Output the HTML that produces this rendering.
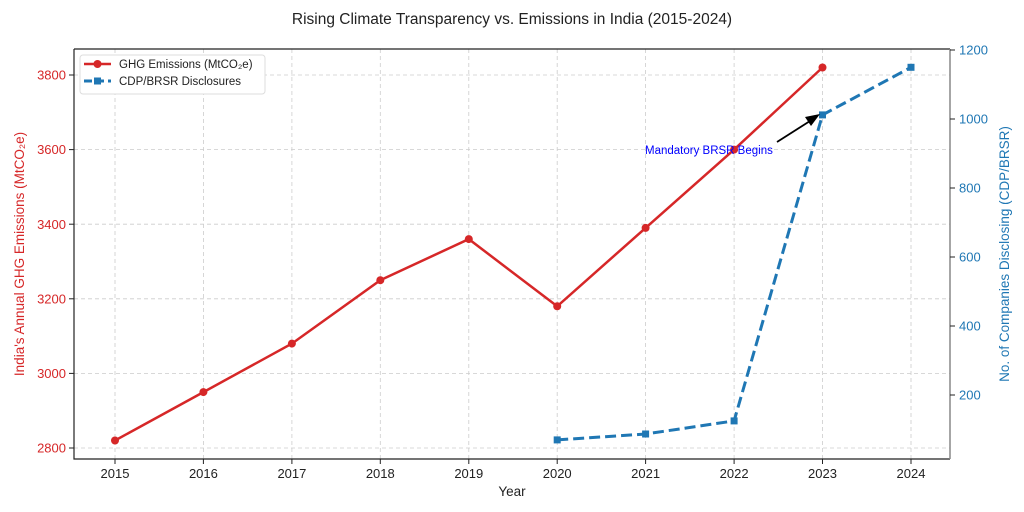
<!DOCTYPE html>
<html><head><meta charset="utf-8"><style>body{margin:0;background:#fff}svg{display:block}text{font-family:"Liberation Sans","DejaVu Sans",sans-serif}</style></head><body>
<svg width="1024" height="512" viewBox="0 0 1024 512">
<text x="512" y="24" font-size="15.5" text-anchor="middle" fill="#222">Rising Climate Transparency vs. Emissions in India (2015-2024)</text>
<g stroke="#ccc" stroke-dasharray="4,3" stroke-width="0.8">
<line x1="115" y1="49" x2="115" y2="459"/><line x1="203.4" y1="49" x2="203.4" y2="459"/><line x1="291.9" y1="49" x2="291.9" y2="459"/><line x1="380.3" y1="49" x2="380.3" y2="459"/><line x1="468.8" y1="49" x2="468.8" y2="459"/><line x1="557.2" y1="49" x2="557.2" y2="459"/><line x1="645.6" y1="49" x2="645.6" y2="459"/><line x1="734.1" y1="49" x2="734.1" y2="459"/><line x1="822.5" y1="49" x2="822.5" y2="459"/><line x1="911" y1="49" x2="911" y2="459"/>
<line x1="74" y1="448" x2="950" y2="448"/><line x1="74" y1="373.4" x2="950" y2="373.4"/><line x1="74" y1="298.8" x2="950" y2="298.8"/><line x1="74" y1="224.2" x2="950" y2="224.2"/><line x1="74" y1="149.6" x2="950" y2="149.6"/><line x1="74" y1="75" x2="950" y2="75"/>
</g>
<polyline fill="none" stroke="#d62728" stroke-width="2.5" points="115,440.5 203.4,392.1 291.9,343.6 380.3,280.2 468.8,239.1 557.2,306.3 645.6,227.9 734.1,149.6 822.5,67.5"/>
<g fill="#d62728"><circle cx="115" cy="440.5" r="4"/><circle cx="203.4" cy="392.1" r="4"/><circle cx="291.9" cy="343.6" r="4"/><circle cx="380.3" cy="280.2" r="4"/><circle cx="468.8" cy="239.1" r="4"/><circle cx="557.2" cy="306.3" r="4"/><circle cx="645.6" cy="227.9" r="4"/><circle cx="734.1" cy="149.6" r="4"/><circle cx="822.5" cy="67.5" r="4"/></g>
<polyline fill="none" stroke="#1f77b4" stroke-width="3" stroke-dasharray="11,5" points="557.2,439.9 645.6,434 734.1,420.9 822.5,114.9 911,67.3"/>
<g fill="#1f77b4"><rect x="553.7" y="436.4" width="7" height="7"/><rect x="642.1" y="430.5" width="7" height="7"/><rect x="730.6" y="417.4" width="7" height="7"/><rect x="819" y="111.4" width="7" height="7"/><rect x="907.5" y="63.8" width="7" height="7"/></g>
<line x1="777" y1="142" x2="810" y2="121" stroke="#000" stroke-width="1.8"/>
<polygon points="820,114 805,117 811,126" fill="#000"/>
<text x="645" y="154" font-size="11.5" fill="#0000ff">Mandatory BRSR Begins</text>
<path d="M74,49 V459 H950" fill="none" stroke="#222" stroke-width="1.2"/>
<line x1="74" y1="49" x2="950" y2="49" stroke="#222" stroke-width="1.2"/>
<line x1="950" y1="49" x2="950" y2="459" stroke="#888" stroke-width="1.5"/>
<g stroke="#222"><line x1="69" y1="448" x2="74" y2="448"/><line x1="69" y1="373.4" x2="74" y2="373.4"/><line x1="69" y1="298.8" x2="74" y2="298.8"/><line x1="69" y1="224.2" x2="74" y2="224.2"/><line x1="69" y1="149.6" x2="74" y2="149.6"/><line x1="69" y1="75" x2="74" y2="75"/></g>
<g font-size="13" fill="#d62728" text-anchor="end"><text x="66" y="452.5">2800</text><text x="66" y="378">3000</text><text x="66" y="303.5">3200</text><text x="66" y="229">3400</text><text x="66" y="154">3600</text><text x="66" y="79.5">3800</text></g>
<g stroke="#222"><line x1="950" y1="50" x2="955" y2="50"/><line x1="950" y1="119" x2="955" y2="119"/><line x1="950" y1="188" x2="955" y2="188"/><line x1="950" y1="257" x2="955" y2="257"/><line x1="950" y1="326" x2="955" y2="326"/><line x1="950" y1="395" x2="955" y2="395"/></g>
<g font-size="13" fill="#1f77b4"><text x="959" y="54.5">1200</text><text x="959" y="123.5">1000</text><text x="959" y="192.5">800</text><text x="959" y="261.5">600</text><text x="959" y="330.5">400</text><text x="959" y="399.5">200</text></g>
<g stroke="#222"><line x1="115" y1="459" x2="115" y2="464"/><line x1="203.4" y1="459" x2="203.4" y2="464"/><line x1="291.9" y1="459" x2="291.9" y2="464"/><line x1="380.3" y1="459" x2="380.3" y2="464"/><line x1="468.8" y1="459" x2="468.8" y2="464"/><line x1="557.2" y1="459" x2="557.2" y2="464"/><line x1="645.6" y1="459" x2="645.6" y2="464"/><line x1="734.1" y1="459" x2="734.1" y2="464"/><line x1="822.5" y1="459" x2="822.5" y2="464"/><line x1="911" y1="459" x2="911" y2="464"/></g>
<g font-size="13" fill="#222" text-anchor="middle"><text x="115" y="478">2015</text><text x="203.4" y="478">2016</text><text x="291.9" y="478">2017</text><text x="380.3" y="478">2018</text><text x="468.8" y="478">2019</text><text x="557.2" y="478">2020</text><text x="645.6" y="478">2021</text><text x="734.1" y="478">2022</text><text x="822.5" y="478">2023</text><text x="911" y="478">2024</text></g>
<text x="512" y="496" font-size="13.5" text-anchor="middle" fill="#222">Year</text>
<text transform="translate(24,254) rotate(-90)" font-size="13.5" text-anchor="middle" fill="#d62728">India's Annual GHG Emissions (MtCO₂e)</text>
<text transform="translate(1009,254) rotate(-90)" font-size="13.5" text-anchor="middle" fill="#1f77b4">No. of Companies Disclosing (CDP/BRSR)</text>
<rect x="80" y="55" width="185" height="39" rx="3" fill="#fff" stroke="#ddd"/>
<line x1="84" y1="64" x2="111" y2="64" stroke="#d62728" stroke-width="2.5"/><circle cx="97.5" cy="64" r="4" fill="#d62728"/>
<line x1="84" y1="81" x2="111" y2="81" stroke="#1f77b4" stroke-width="3" stroke-dasharray="8,4"/><rect x="94" y="77.5" width="7" height="7" fill="#1f77b4"/>
<text x="119" y="68" font-size="11.5" fill="#222">GHG Emissions (MtCO₂e)</text>
<text x="119" y="85" font-size="11.5" fill="#222">CDP/BRSR Disclosures</text>
</svg>
</body></html>
